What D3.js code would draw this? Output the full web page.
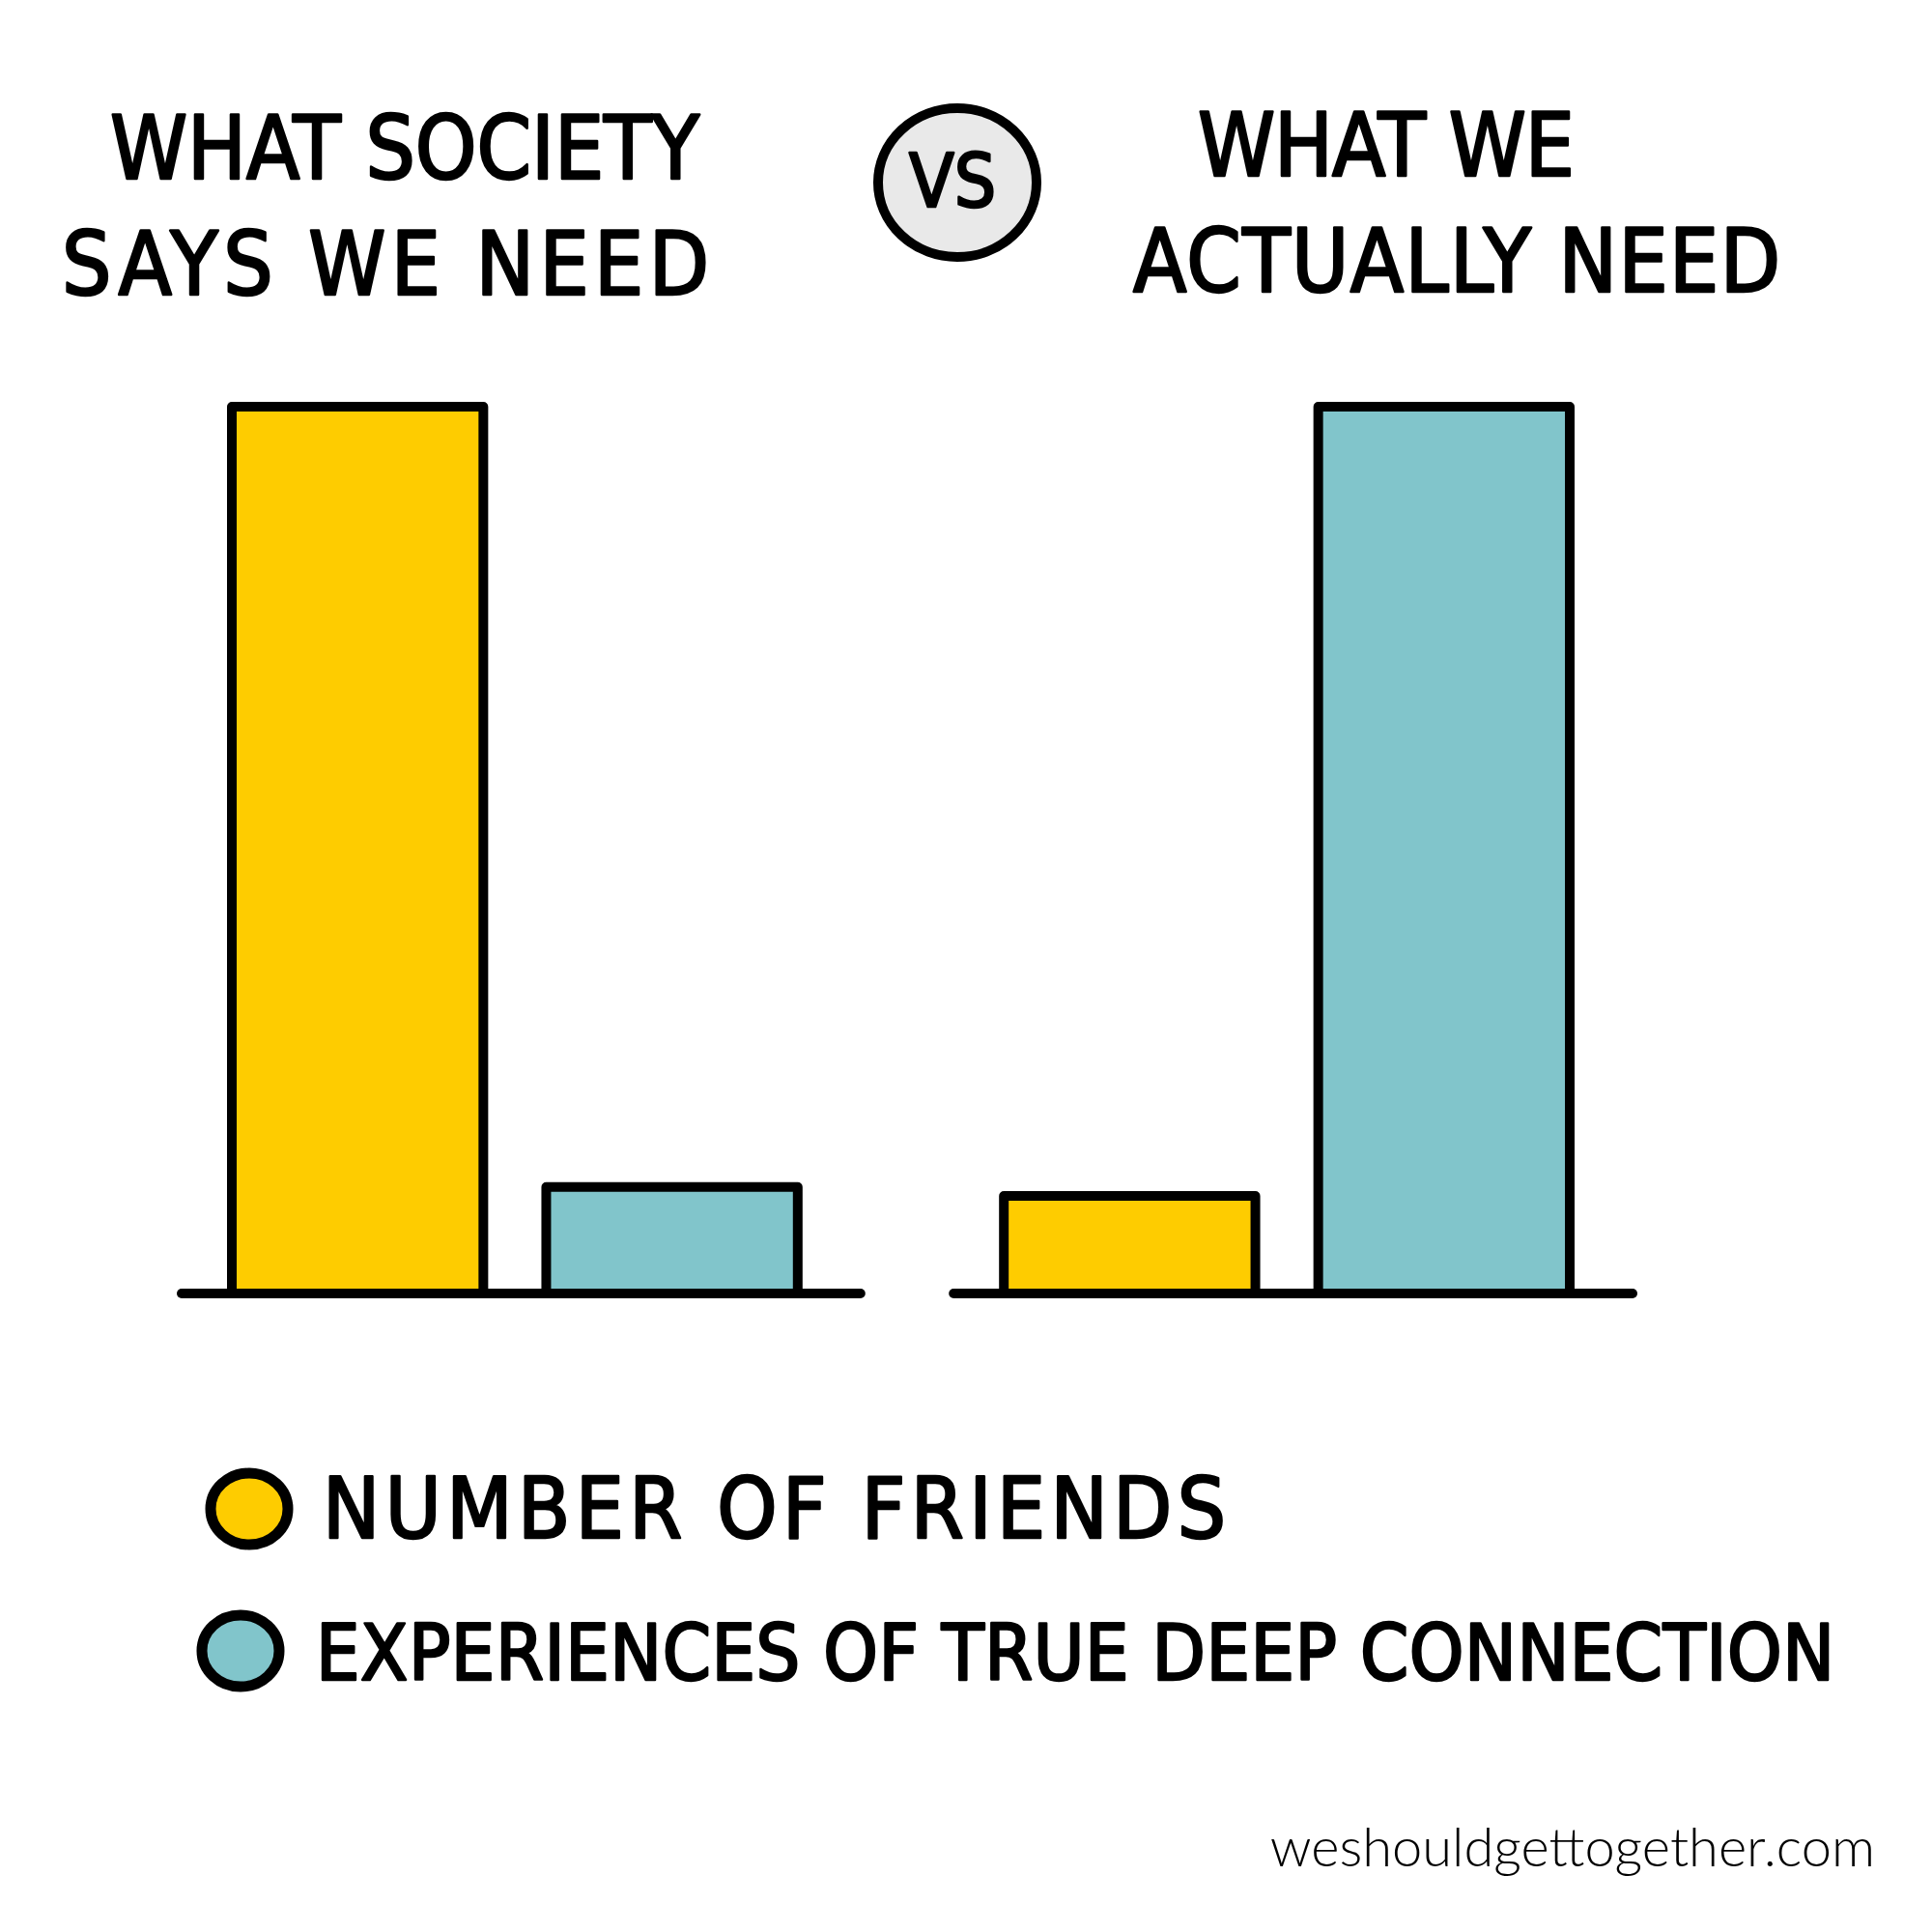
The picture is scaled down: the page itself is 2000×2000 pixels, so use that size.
<!DOCTYPE html>
<html>
<head>
<meta charset="utf-8">
<script src="https://cdn.jsdelivr.net/npm/d3@7"></script>
<style>
  body { margin: 0; background: #fff; }
  svg { display: block; }
  .hand { font-family: "DejaVu Sans Condensed", "DejaVu Sans", sans-serif; fill: #000; stroke: #000; stroke-width: 2.5; stroke-linejoin: round; }
</style>
</head>
<body>
<div id="chart"></div>
<script>
// the two sides of the comparison and the two things being measured
var groups = ["society", "actual"];
var series = ["Number of friends", "Experiences of true deep connection"];
var seriesLabels = ["NUMBER OF FRIENDS", "EXPERIENCES OF TRUE DEEP CONNECTION"];
var colors = ["#fecc00", "#81c5cb"];

// bar heights (tallest = 100)
var societyValues = [100, 12];
var actualValues = [11, 100];

var titleLines = {
  society: ["WHAT SOCIETY", "SAYS WE NEED"],
  actual: ["WHAT WE", "ACTUALLY NEED"]
};

var w = 2000, h = 2000;
var stroke = 10;

var svg = d3.select("#chart").append("svg")
            .attr("width", w)
            .attr("height", h)
            .style("background-color", "#fff");

// Scales
var x0 = d3.scaleBand().domain(groups).range([240, 1625]).paddingInner(0.267);
var x1 = d3.scaleBand().domain(series).range([0, x0.bandwidth()]).paddingInner(0.2);
var y = d3.scaleLinear().domain([0, 100]).range([1339, 421]);

var data = [
  { group: "society", values: societyValues },
  { group: "actual", values: actualValues }
];

var g = svg.selectAll("g.group").data(data)
           .enter()
           .append("g")
           .attr("class", "group")
           .attr("transform", d => "translate(" + x0(d.group) + ",0)");

// bars
g.selectAll("rect")
 .data(d => d.values.map((v, i) => ({ key: series[i], value: v, i: i })))
 .enter()
 .append("rect")
 .attr("x", d => x1(d.key))
 .attr("y", d => y(d.value))
 .attr("width", x1.bandwidth())
 .attr("height", d => y(0) - y(d.value))
 .attr("fill", d => colors[d.i])
 .attr("stroke", "#000")
 .attr("stroke-width", stroke)
 .attr("stroke-linejoin", "round");

// baseline under each group
g.append("line")
 .attr("x1", -52)
 .attr("x2", x0.bandwidth() + 65)
 .attr("y1", y(0))
 .attr("y2", y(0))
 .attr("stroke", "#000")
 .attr("stroke-width", stroke)
 .attr("stroke-linecap", "round");

// titles
var titlePos = {
  society: [{ x: 419, y: 185, len: 610 }, { x: 399, y: 305, len: 670 }],
  actual: [{ x: 1435, y: 182, len: 390 }, { x: 1508, y: 302, len: 670 }]
};

groups.forEach(function(k) {
  titleLines[k].forEach(function(line, i) {
    var p = titlePos[k][i];
    svg.append("text")
       .attr("class", "hand")
       .attr("x", p.x)
       .attr("y", p.y)
       .attr("text-anchor", "middle")
       .attr("font-size", 90)
       .attr("textLength", p.len)
       .attr("lengthAdjust", "spacing")
       .text(line);
  });
});

// VS bubble
svg.append("ellipse")
   .attr("cx", 991)
   .attr("cy", 189)
   .attr("rx", 82)
   .attr("ry", 77)
   .attr("fill", "#e9e9e9")
   .attr("stroke", "#000")
   .attr("stroke-width", stroke);

svg.append("text")
   .attr("class", "hand")
   .attr("x", 986)
   .attr("y", 214)
   .attr("text-anchor", "middle")
   .attr("font-size", 76)
   .text("VS");

// legend
var legend = svg.selectAll("g.legend").data(series)
                .enter()
                .append("g")
                .attr("class", "legend")
                .attr("transform", (d, i) => "translate(" + (258 - i * 9) + "," + (1562 + i * 147) + ")");

legend.append("ellipse")
      .attr("rx", 40)
      .attr("ry", 37)
      .attr("fill", (d, i) => colors[i])
      .attr("stroke", "#000")
      .attr("stroke-width", stroke + 1);

legend.append("text")
      .attr("class", "hand")
      .attr("x", (d, i) => 76 + i * 2)
      .attr("y", 30)
      .attr("font-size", (d, i) => i === 0 ? 88 : 80)
      .attr("textLength", (d, i) => i === 0 ? 935 : 1572)
      .attr("lengthAdjust", "spacing")
      .text((d, i) => seriesLabels[i]);

// footer
svg.append("text")
   .attr("x", 1941)
   .attr("y", 1932)
   .attr("text-anchor", "end")
   .attr("font-family", "Lato, 'Noto Sans', sans-serif")
   .attr("font-weight", 300)
   .attr("font-size", 56)
   .attr("fill", "#000")
   .text("weshouldgettogether.com");
</script>
</body>
</html>
